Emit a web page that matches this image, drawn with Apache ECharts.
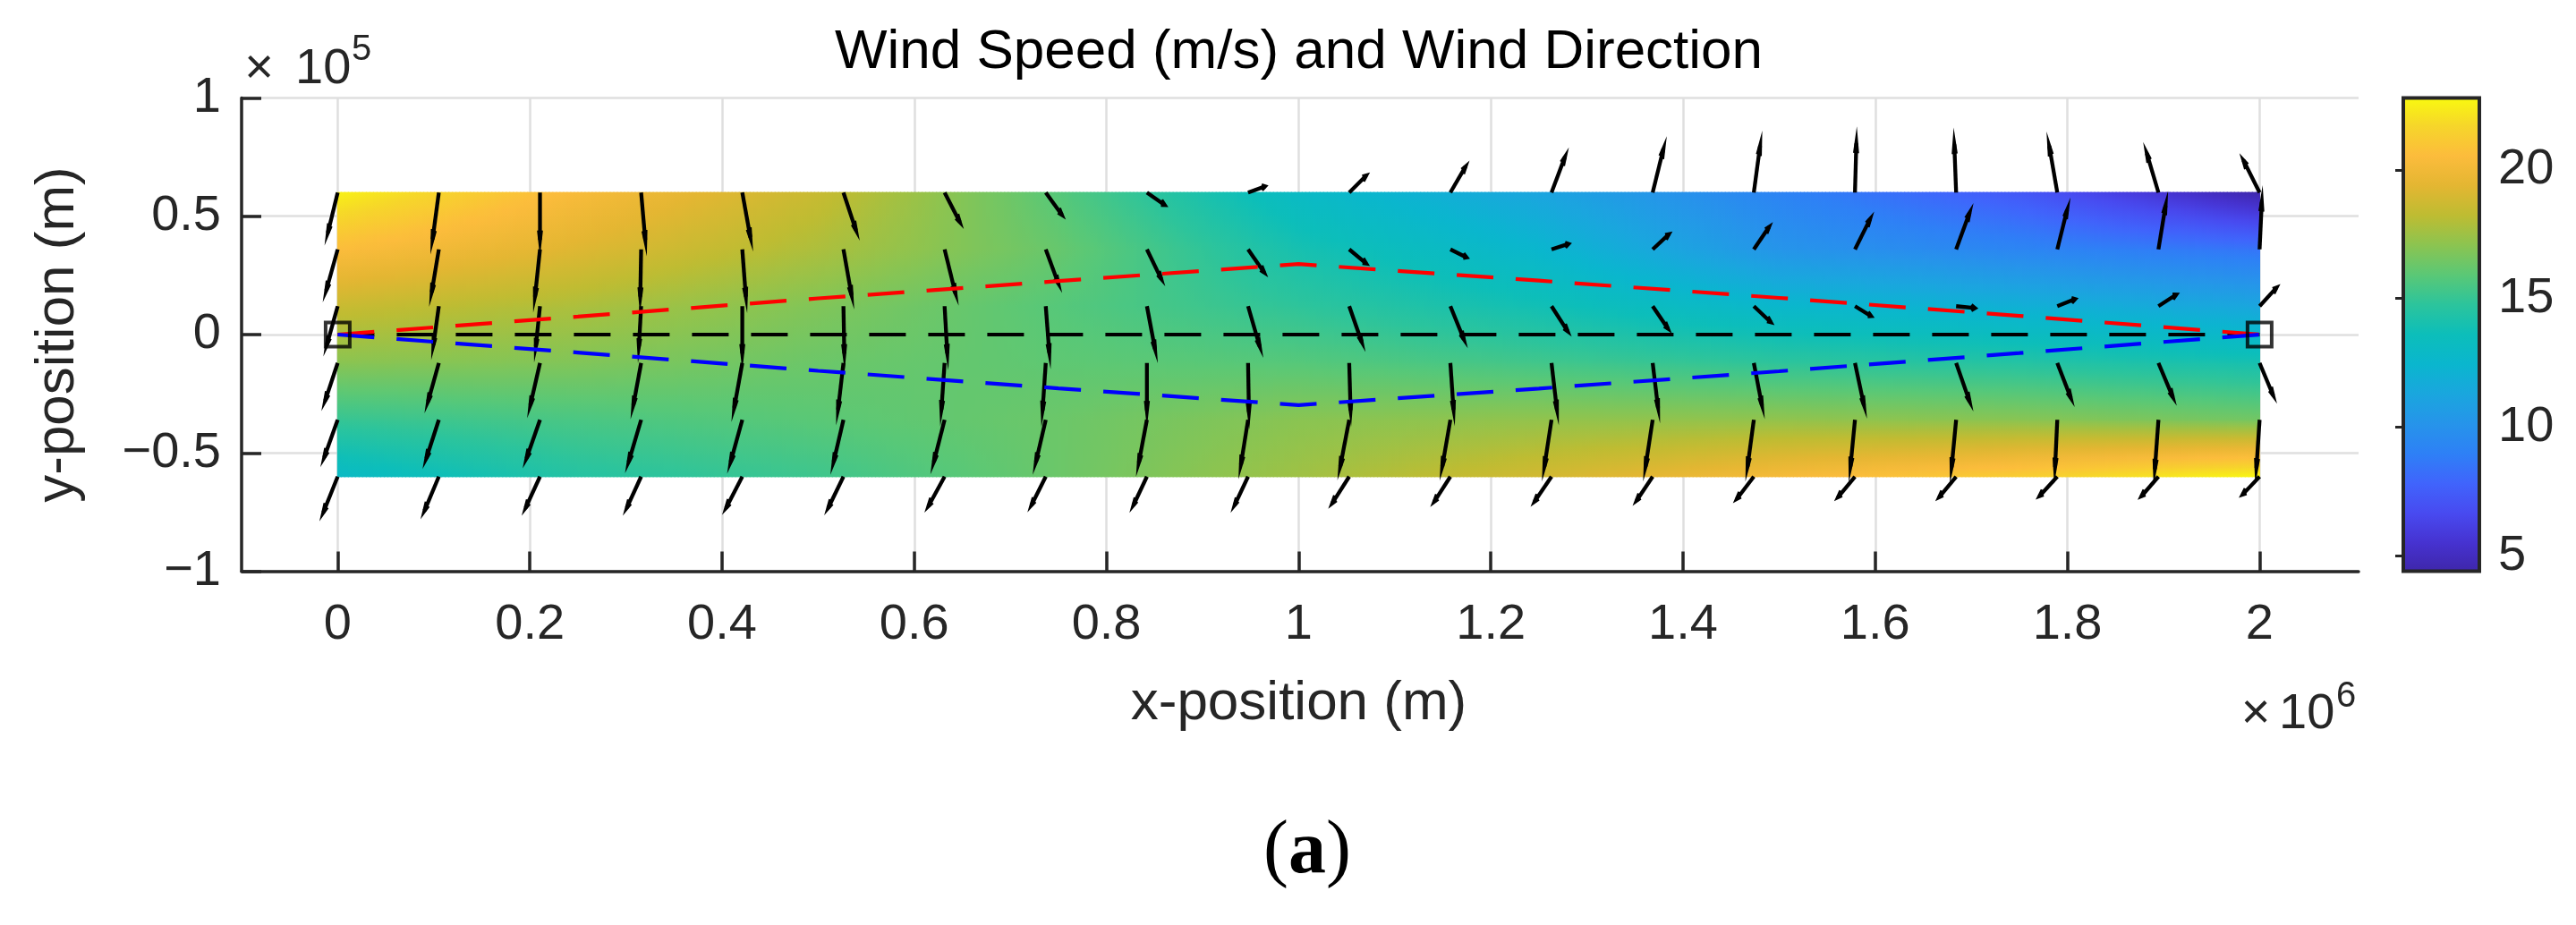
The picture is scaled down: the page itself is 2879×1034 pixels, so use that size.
<!DOCTYPE html>
<html>
<head>
<meta charset="utf-8">
<script src="https://cdn.jsdelivr.net/npm/echarts@6/dist/echarts.min.js"></script>
<style>html,body{margin:0;padding:0;background:#fff}#c{width:2879px;height:1034px}</style>
</head>
<body>
<div id="c"></div>
<script>
// ---------- data ----------
// quiver grid (m)
const xs = [0, 105263, 210526, 315789, 421053, 526316, 631579, 736842, 842105, 947368,
            1052632, 1157895, 1263158, 1368421, 1473684, 1578947, 1684211, 1789474, 1894737, 2000000];
const ys = [-60000, -36000, -12000, 12000, 36000, 60000];
// wind vector components as drawn (m), rows follow ys
const U = [
  [-14900,-14900,-14900,-14900,-16800,-15800,-16800,-14900,-14000,-14000,-17700,-16800,-17700,-16800,-17700,-17700,-17700,-18600,-17700,-17700],
  [-14000,-13000,-14000,-13000,-12100,-10200,-11200,-10200,-8400,-7400,-9300,-8400,-7400,-7400,-6500,-4700,-4700,-2300,-3700,-3300],
  [-13000,-11200,-10000,-8100,-8400,-5600,-3300,-3300,0,900,1400,3300,5600,5600,8400,9300,14000,14000,14900,14000],
  [-11200,-5600,-4300,-2300,0,900,2800,3700,8400,12100,13000,14000,16800,15800,17700,16800,19600,18600,18600,17700],
  [-11900,-7400,-5200,-900,3700,8400,11200,13000,14900,16800,17700,16800,17700,16800,15800,15800,14000,10200,7400,2300],
  [-10200,-6500,0,4300,8400,13000,15800,16800,18600,17700,17700,15800,14000,11200,6500,1400,-1900,-8400,-12100,-16800]
];
const V = [
  [-15100,-14400,-13200,-13200,-13200,-13200,-12500,-12100,-12100,-12100,-11300,-10600,-10600,-10200,-9450,-8700,-8700,-8300,-8300,-7600],
  [-15900,-16300,-16300,-17800,-17800,-17800,-17800,-17800,-18100,-18900,-19700,-19700,-19700,-19700,-19700,-19700,-20000,-20000,-20800,-20400],
  [-15900,-16300,-17800,-17800,-18900,-19700,-19700,-20000,-20000,-20800,-20000,-19700,-19700,-18900,-17800,-17800,-16300,-14700,-14400,-13600],
  [-16300,-16300,-17000,-17000,-20000,-20000,-20000,-19700,-18100,-17000,-15100,-14000,-10600,-9450,-6800,-4200,-800,3000,4900,7900],
  [-17400,-18100,-20000,-20000,-20000,-19300,-18500,-14400,-12500,-9800,-6000,-3400,2300,6400,9450,12900,15500,16600,18500,20000],
  [-17000,-19700,-20000,-20000,-18900,-15900,-12500,-9450,-5300,2600,7200,11000,15100,18500,19700,20800,20400,19700,16600,13600]
];
// wind speed field (m/s), rows follow fieldY, columns follow fieldX
const fieldX = [0, 250000, 500000, 750000, 1000000, 1250000, 1500000, 1750000, 2000000];
const fieldY = [-60000, -36000, -12000, 12000, 36000, 60000];
const speed = [
  [13.0, 14.5, 15.2, 16.3, 17.5, 18.8, 20.2, 21.3, 22.7],
  [15.0, 15.5, 15.9, 16.3, 17.0, 17.2, 17.2, 17.0, 16.5],
  [17.0, 16.8, 16.3, 16.0, 15.8, 15.3, 14.8, 14.5, 14.0],
  [18.5, 17.8, 16.8, 15.8, 14.8, 13.8, 12.6, 12.0, 11.3],
  [20.5, 19.2, 17.8, 16.2, 14.0, 12.5, 10.2, 9.3, 8.5],
  [22.5, 20.3, 18.5, 15.8, 13.0, 11.2, 9.2, 7.3, 4.5]
];
// paths
const pathX = [0, 250000, 500000, 750000, 1000000, 1250000, 1500000, 1750000, 2000000];
const redY  = [0, 7600, 15300, 22600, 29800, 22800, 15500, 7900, 0];
const blueY = [0, -7600, -15300, -22700, -29800, -22800, -15500, -7800, 0];
const blackX = [0, 2000000];
const blackY = [0, 0];
const endPoints = [[0, 0], [2000000, 0]];
// ticks
const xTickValues = [0, 200000, 400000, 600000, 800000, 1000000, 1200000, 1400000, 1600000, 1800000, 2000000];
const cbarTicks = [5, 10, 15, 20];
const cmin = 4.4, cmax = 22.8;
// parula colormap stops
const parula = [
  [0.000, [62, 38, 168]], [0.063, [70, 50, 208]], [0.125, [72, 74, 240]], [0.188, [64, 100, 252]],
  [0.250, [46, 128, 246]], [0.313, [38, 148, 234]], [0.375, [26, 166, 222]], [0.438, [10, 182, 206]],
  [0.500, [12, 190, 186]], [0.563, [44, 196, 156]], [0.625, [90, 200, 118]], [0.688, [140, 196, 80]],
  [0.750, [190, 188, 50]], [0.813, [228, 182, 50]], [0.875, [252, 188, 60]], [0.938, [246, 214, 42]],
  [1.000, [249, 251, 14]]
];

// ---------- helpers ----------
function cmap(val) {
  let t = (val - cmin) / (cmax - cmin);
  t = Math.max(0, Math.min(1, t));
  for (let i = 1; i < parula.length; i++) {
    if (t <= parula[i][0] + 1e-9) {
      const t0 = parula[i - 1][0], c0 = parula[i - 1][1], t1 = parula[i][0], c1 = parula[i][1];
      const f = (t - t0) / (t1 - t0);
      return 'rgb(' + [0, 1, 2].map(k => Math.round(c0[k] + (c1[k] - c0[k]) * f)).join(',') + ')';
    }
  }
  return 'rgb(249,251,14)';
}

const fieldCells = [];
for (let j = 0; j < fieldY.length - 1; j++) {
  for (let i = 0; i < fieldX.length - 1; i++) {
    fieldCells.push([fieldX[i], fieldX[i + 1], fieldY[j], fieldY[j + 1],
      speed[j][i], speed[j][i + 1], speed[j + 1][i], speed[j + 1][i + 1]]);
  }
}
const arrows = [];
for (let j = 0; j < ys.length; j++) for (let i = 0; i < xs.length; i++) arrows.push([xs[i], ys[j], U[j][i], V[j][i]]);

function renderField(params, api) {
  const x0 = api.value(0), x1 = api.value(1), y0 = api.value(2), y1 = api.value(3);
  const vBL = api.value(4), vBR = api.value(5), vTL = api.value(6), vTR = api.value(7);
  const pTL = api.coord([x0, y1]), pBR = api.coord([x1, y0]);
  const W = pBR[0] - pTL[0], H = pBR[1] - pTL[1];
  const n = Math.max(1, Math.round(W / 4));
  const children = [];
  for (let s = 0; s < n; s++) {
    const f = (s + 0.5) / n;
    const top = vTL + (vTR - vTL) * f, bot = vBL + (vBR - vBL) * f;
    const stops = [];
    for (let k = 0; k <= 6; k++) { const t = k / 6; stops.push({ offset: t, color: cmap(top + (bot - top) * t) }); }
    children.push({
      type: 'rect', silent: true,
      shape: { x: pTL[0] + s * W / n - 0.6, y: pTL[1] - 0.6, width: W / n + 1.2, height: H + 1.2 },
      style: { fill: new echarts.graphic.LinearGradient(0, 0, 0, 1, stops) }
    });
  }
  return { type: 'group', children };
}

function renderArrow(params, api) {
  const x = api.value(0), y = api.value(1), u = api.value(2), v = api.value(3);
  const a = 0.2, b = 0.28;
  const p0 = api.coord([x, y]), p1 = api.coord([x + u, y + v]);
  const h1 = api.coord([x + u - a * (u + b * v), y + v - a * (v - b * u)]);
  const h2 = api.coord([x + u - a * (u - b * v), y + v - a * (v + b * u)]);
  const st = { stroke: '#000', lineWidth: 4.3, fill: null };
  return { type: 'group', children: [
    { type: 'polyline', shape: { points: [p0, p1] }, style: st },
    { type: 'polyline', shape: { points: [h1, p1, h2] }, style: st }
  ] };
}

function renderColorbar(params, api) {
  const pTL = api.coord([api.value(0), api.value(3)]);
  const pBR = api.coord([api.value(1), api.value(2)]);
  const stops = parula.map(s => ({ offset: s[0], color: 'rgb(' + s[1].join(',') + ')' }));
  return {
    type: 'rect',
    shape: { x: pTL[0], y: pTL[1], width: pBR[0] - pTL[0], height: pBR[1] - pTL[1] },
    style: { fill: new echarts.graphic.LinearGradient(0, 1, 0, 0, stops), stroke: '#262626', lineWidth: 4 }
  };
}

const FONT = 'Liberation Sans';
const TXT = '#262626';
const lineCommon = { type: 'line', xAxisIndex: 0, yAxisIndex: 0, showSymbol: false, symbol: 'none', silent: true, z: 4 };

const chart = echarts.init(document.getElementById('c'), null, { renderer: 'canvas' });
chart.setOption({
  animation: false,
  backgroundColor: '#ffffff',
  grid: [
    { left: 270, top: 109.4, width: 2366, height: 529.2, outerBoundsMode: 'none', containLabel: false },
    { left: 2686, top: 109.4, width: 85, height: 529.2, outerBoundsMode: 'none', containLabel: false }
  ],
  xAxis: [
    {
      type: 'value', gridIndex: 0, min: -100000, max: 2103000,
      axisLine: { show: true, onZero: false, lineStyle: { color: TXT, width: 3.5 } },
      axisTick: { show: true, inside: true, length: 22, customValues: xTickValues, lineStyle: { color: TXT, width: 3.5 } },
      axisLabel: {
        customValues: xTickValues, margin: 32, fontSize: 56, fontFamily: FONT, color: TXT,
        formatter: v => (Math.abs(v) < 1 ? '0' : String(+(v / 1e6).toFixed(1)))
      },
      splitLine: { show: true, lineStyle: { color: '#DFDFDF', width: 2.5 } }
    },
    { type: 'value', gridIndex: 1, min: 0, max: 1, show: false }
  ],
  yAxis: [
    {
      type: 'value', gridIndex: 0, min: -100000, max: 100000, interval: 50000,
      axisLine: { show: true, onZero: false, lineStyle: { color: TXT, width: 3.5 } },
      axisTick: { show: true, inside: true, length: 22, lineStyle: { color: TXT, width: 3.5 } },
      axisLabel: {
        margin: 23, fontSize: 56, fontFamily: FONT, color: TXT,
        formatter: v => String(+(v / 1e5).toFixed(1)).replace('-', '\u2212')
      },
      splitLine: { show: true, lineStyle: { color: '#DFDFDF', width: 2.5 } }
    },
    {
      type: 'value', gridIndex: 1, position: 'right', min: cmin, max: cmax, z: 10,
      axisLine: { show: false },
      axisTick: { show: true, inside: true, length: 9, customValues: cbarTicks, lineStyle: { color: TXT, width: 3 } },
      axisLabel: { customValues: cbarTicks, margin: 21, fontSize: 56, fontFamily: FONT, color: TXT },
      splitLine: { show: false }
    }
  ],
  series: [
    { type: 'custom', name: 'speed', xAxisIndex: 0, yAxisIndex: 0, renderItem: renderField,
      data: fieldCells, encode: { x: [0, 1], y: [2, 3] }, silent: true, z: 1 },
    { type: 'custom', name: 'wind', xAxisIndex: 0, yAxisIndex: 0, renderItem: renderArrow,
      data: arrows, encode: { x: 0, y: 1 }, silent: true, z: 3 },
    Object.assign({}, lineCommon, { name: 'center', data: blackX.map((x, i) => [x, blackY[i]]),
      lineStyle: { color: '#000000', width: 4.2, type: [41, 25] } }),
    Object.assign({}, lineCommon, { name: 'upper', data: pathX.map((x, i) => [x, redY[i]]),
      lineStyle: { color: '#FF0000', width: 4.2, type: [41, 25] } }),
    Object.assign({}, lineCommon, { name: 'lower', data: pathX.map((x, i) => [x, blueY[i]]),
      lineStyle: { color: '#0000FF', width: 4.2, type: [41, 25] } }),
    { type: 'scatter', name: 'ends', xAxisIndex: 0, yAxisIndex: 0, data: endPoints, symbol: 'rect', symbolSize: 27,
      itemStyle: { color: 'rgba(0,0,0,0)', borderColor: '#000', borderWidth: 4 }, silent: true, z: 6 },
    { type: 'custom', name: 'colorbar', xAxisIndex: 1, yAxisIndex: 1, renderItem: renderColorbar,
      data: [[0, 1, cmin, cmax]], encode: { x: [0, 1], y: [2, 3] }, silent: true, z: 2 }
  ],
  graphic: [
    { type: 'text', x: 1451.5, y: 58.5, silent: true,
      style: { text: 'Wind Speed (m/s) and Wind Direction', fontSize: 62, fontFamily: FONT, fill: '#000', align: 'center', verticalAlign: 'middle' } },
    { type: 'text', x: 1451.5, y: 786.5, silent: true,
      style: { text: 'x-position (m)', fontSize: 62, fontFamily: FONT, fill: TXT, align: 'center', verticalAlign: 'middle' } },
    { type: 'text', x: 64.5, y: 374, rotation: Math.PI / 2, silent: true,
      style: { text: 'y-position (m)', fontSize: 62, fontFamily: FONT, fill: TXT, align: 'center', verticalAlign: 'middle' } },
    // x 10^5 (top-left)
    { type: 'text', x: 289.5, y: 78, silent: true,
      style: { text: '\u00d7', fontSize: 56, fontFamily: FONT, fill: TXT, align: 'center', verticalAlign: 'middle' } },
    { type: 'text', x: 330, y: 77.6, silent: true,
      style: { text: '10', fontSize: 56, fontFamily: FONT, fill: TXT, align: 'left', verticalAlign: 'middle' } },
    { type: 'text', x: 393, y: 56, silent: true,
      style: { text: '5', fontSize: 40, fontFamily: FONT, fill: TXT, align: 'left', verticalAlign: 'middle' } },
    // x 10^6 (bottom-right)
    { type: 'text', x: 2521, y: 799, silent: true,
      style: { text: '\u00d7', fontSize: 56, fontFamily: FONT, fill: TXT, align: 'center', verticalAlign: 'middle' } },
    { type: 'text', x: 2547, y: 798.6, silent: true,
      style: { text: '10', fontSize: 56, fontFamily: FONT, fill: TXT, align: 'left', verticalAlign: 'middle' } },
    { type: 'text', x: 2611, y: 779, silent: true,
      style: { text: '6', fontSize: 40, fontFamily: FONT, fill: TXT, align: 'left', verticalAlign: 'middle' } },
    // (a)
    { type: 'text', x: 1461, y: 953, silent: true,
      style: { text: '{p|(}{b|a}{p|)}', align: 'center', verticalAlign: 'middle',
        rich: {
          p: { fontSize: 84, fontFamily: 'Liberation Serif', fill: '#000', fontWeight: 'normal' },
          b: { fontSize: 84, fontFamily: 'Liberation Serif', fill: '#000', fontWeight: 'bold' }
        } } }
  ]
});
</script>
</body>
</html>
